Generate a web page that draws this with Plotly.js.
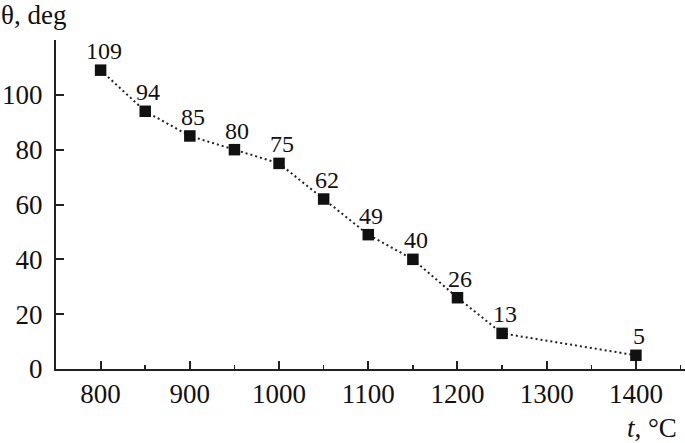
<!DOCTYPE html>
<html>
<head>
<meta charset="utf-8">
<script src="https://cdn.plot.ly/plotly-3.0.1.min.js"></script>
<style>html,body{margin:0;padding:0;background:#fff;}#chart{width:685px;height:443px;}</style>
</head>
<body>
<div id="chart"></div>
<script>
const temperature = [800, 850, 900, 950, 1000, 1050, 1100, 1150, 1200, 1250, 1400];
const angle = [109, 94, 85, 80, 75, 62, 49, 40, 26, 13, 5];
const xTicks = [800, 900, 1000, 1100, 1200, 1300, 1400];
const yTicks = [0, 20, 40, 60, 80, 100, 120];
const yTickText = ['0', '20', '40', '60', '80', '100', ''];

const FONT = 'Liberation Serif';
const trace = {
  x: temperature,
  y: angle,
  mode: 'lines+markers',
  line: {color: '#222', width: 2, dash: '2px,3px'},
  marker: {symbol: 'square', size: 11.5, color: '#111'},
  cliponaxis: false,
  hoverinfo: 'skip'
};
const valueLabels = temperature.map((t, i) => ({
  x: t, y: angle[i], xref: 'x', yref: 'y',
  text: String(angle[i]),
  showarrow: false, xanchor: 'center', yanchor: 'bottom',
  xshift: 3, yshift: 4,
  font: {family: FONT, size: 24, color: '#111'}
}));
const layout = {
  width: 685, height: 443,
  margin: {l: 56, r: 0, t: 40, b: 74},
  paper_bgcolor: '#fff', plot_bgcolor: '#fff',
  showlegend: false,
  font: {family: FONT, color: '#111'},
  xaxis: {
    range: [750, 1455],
    tickvals: xTicks,
    ticks: 'inside', ticklen: 8, tickwidth: 2, tickcolor: '#222',
    minor: {dtick: 50, tick0: 0, ticks: 'inside', ticklen: 4, tickwidth: 1.5, tickcolor: '#222'},
    showline: true, linecolor: '#222', linewidth: 2,
    showgrid: false, zeroline: false,
    tickfont: {family: FONT, size: 27, color: '#111'},
    ticklabelstandoff: 0
  },
  yaxis: {
    range: [0, 120],
    tickvals: yTicks, ticktext: yTickText,
    ticks: 'inside', ticklen: 8, tickwidth: 2, tickcolor: '#222',
    showline: true, linecolor: '#222', linewidth: 2,
    showgrid: false, zeroline: false,
    tickfont: {family: FONT, size: 27, color: '#111'},
    ticklabelstandoff: 6
  },
  annotations: valueLabels.concat([
    {text: 'θ, deg', xref: 'paper', yref: 'paper', x: 0, y: 1, xshift: -57, yshift: 42,
     xanchor: 'left', yanchor: 'top', showarrow: false, font: {family: FONT, size: 27, color: '#111'}},
    {text: '<i>t</i>, °C', xref: 'paper', yref: 'paper', x: 1, y: 0, yshift: -42, xshift: -6,
     xanchor: 'right', yanchor: 'top', showarrow: false, font: {family: FONT, size: 27, color: '#111'}}
  ])
};
Plotly.newPlot('chart', [trace], layout, {displayModeBar: false, staticPlot: true});
</script>
</body>
</html>
